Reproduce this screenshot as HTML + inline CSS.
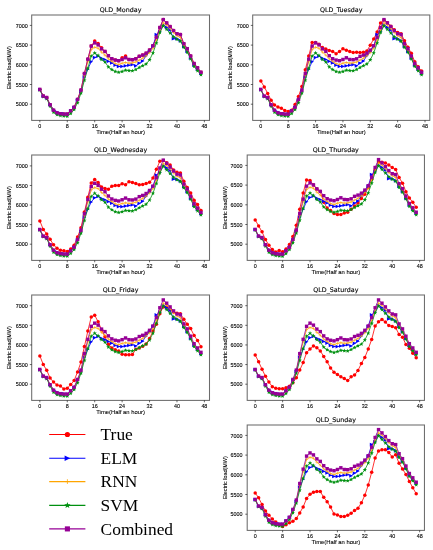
<!DOCTYPE html>
<html lang="en"><head><meta charset="utf-8"><title>QLD load forecasts</title>
<style>
html,body{margin:0;padding:0;background:#fff}
body{width:433px;height:550px;overflow:hidden}
svg{display:block}
.tk{font-family:"Liberation Sans",sans-serif;font-size:5.4px;fill:#000;stroke:#000;stroke-width:0.1px}
.ti{font-family:"DejaVu Sans","Liberation Sans",sans-serif;font-size:6.35px;fill:#000;stroke:#000;stroke-width:0.12px}
.lb{font-family:"Liberation Sans",sans-serif;font-size:5.45px;fill:#000;stroke:#000;stroke-width:0.08px}
.lg{font-family:"Liberation Serif",serif;font-size:17.4px;fill:#000}
</style></head><body>
<svg width="433" height="550" viewBox="0 0 433 550">
<rect width="433" height="550" fill="#fff"/>
<defs>
<marker id="mT" markerUnits="userSpaceOnUse" markerWidth="8" markerHeight="8" refX="4" refY="4" viewBox="0 0 8 8" orient="0" overflow="visible"><circle cx="4" cy="4" r="1.75" fill="#ff0000"/></marker>
<marker id="mE" markerUnits="userSpaceOnUse" markerWidth="8" markerHeight="8" refX="4" refY="4" viewBox="0 0 8 8" orient="0" overflow="visible"><polygon points="2.15,2.15 5.85,4 2.15,5.85" fill="#0000ff"/></marker>
<marker id="mR" markerUnits="userSpaceOnUse" markerWidth="8" markerHeight="8" refX="4" refY="4" viewBox="0 0 8 8" orient="0" overflow="visible"><path d="M2.4 4H5.6M4 2.4V5.6" stroke="#ffa500" stroke-width="0.5" fill="none"/></marker>
<marker id="mS" markerUnits="userSpaceOnUse" markerWidth="8" markerHeight="8" refX="4" refY="4" viewBox="0 0 8 8" orient="0" overflow="visible"><polygon points="4,1.8 4.56,3.23 6.09,3.32 4.9,4.29 5.29,5.78 4,4.95 2.71,5.78 3.1,4.29 1.91,3.32 3.44,3.23" fill="#009010"/></marker>
<marker id="mC" markerUnits="userSpaceOnUse" markerWidth="8" markerHeight="8" refX="4" refY="4" viewBox="0 0 8 8" orient="0" overflow="visible"><rect x="2.3" y="2.3" width="3.4" height="3.4" fill="#960096"/></marker>
</defs>
<g>
<polyline points="39.85,89.39 43.28,96 46.71,97.5 50.13,104.71 53.56,110.19 56.99,112.79 60.42,113.7 63.85,114.09 67.27,114.09 70.7,110.78 74.13,107.19 77.56,99.39 80.99,90.02 84.41,73.51 87.84,59.17 91.27,46.08 94.7,40.96 98.13,43.52 101.55,47.86 104.98,51.4 108.41,55.7 111.84,58.69 115.27,60.07 118.69,60.7 122.12,57.71 125.55,56.09 128.98,59.48 132.41,59.68 135.83,58.81 139.26,56.33 142.69,55.11 146.12,53.18 149.55,50.1 152.97,45.73 156.4,37.22 159.83,27.49 163.26,19.61 166.69,22.88 170.11,26.58 173.54,30.6 176.97,33.71 180.4,34.58 183.83,43.68 187.25,48.65 190.68,56.01 194.11,63.5 197.54,67.79 200.97,72.21" fill="none" stroke="#ff0000" stroke-width="0.8" stroke-linejoin="round" marker-start="url(#mT)" marker-mid="url(#mT)" marker-end="url(#mT)"/>
<polyline points="39.85,89.62 43.28,96.12 46.71,97.9 50.13,104.59 53.56,109.72 56.99,112.08 60.42,113.26 63.85,113.85 67.27,114.05 70.7,111.09 74.13,107.55 77.56,100.26 80.99,91.59 84.41,77.01 87.84,69.13 91.27,61.65 94.7,57.51 98.13,56.21 101.55,58.18 104.98,59.48 108.41,61.29 111.84,62.95 115.27,65.23 118.69,66.38 122.12,66.45 125.55,65.86 128.98,65.23 132.41,64.6 135.83,65.86 139.26,63.15 142.69,61.06 146.12,55.74 149.55,51.8 152.97,46.28 156.4,34.62 159.83,31.7 163.26,25.01 166.69,27.37 170.11,30.01 173.54,38.72 176.97,38.72 180.4,40.61 183.83,46.28 187.25,51.4 190.68,58.1 194.11,65.19 197.54,69.13 200.97,73.47" fill="none" stroke="#0000ff" stroke-width="0.8" stroke-linejoin="round" marker-start="url(#mE)" marker-mid="url(#mE)" marker-end="url(#mE)"/>
<polyline points="39.85,89.62 43.28,96.24 46.71,97.82 50.13,104.99 53.56,110.43 56.99,112.95 60.42,113.85 63.85,114.25 67.27,114.37 70.7,111.29 74.13,107.75 77.56,100.26 80.99,91.2 84.41,75.44 87.84,61.65 91.27,49.43 94.7,47.27 98.13,48.21 101.55,52.19 104.98,55.11 108.41,58.89 111.84,61.29 115.27,63.58 118.69,64.45 122.12,63.18 125.55,62.59 128.98,63.11 132.41,62.91 135.83,62 139.26,60.07 142.69,58.18 146.12,55.7 149.55,52.59 152.97,48.25 156.4,39.98 159.83,30.52 163.26,22.88 166.69,25.01 170.11,28.71 173.54,32.49 176.97,35.8 180.4,37.5 183.83,45.49 187.25,50.22 190.68,57.31 194.11,64.6 197.54,68.94 200.97,73.07" fill="none" stroke="#ffa500" stroke-width="0.8" stroke-linejoin="round" marker-start="url(#mR)" marker-mid="url(#mR)" marker-end="url(#mR)"/>
<polyline points="39.85,90.02 43.28,96.71 46.71,98.68 50.13,106.17 53.56,112.28 56.99,114.64 60.42,115.63 63.85,116.02 67.27,116.22 70.7,113.46 74.13,109.52 77.56,102.82 80.99,93.17 84.41,80.28 87.84,68.35 91.27,56.09 94.7,52.98 98.13,55.5 101.55,59.48 104.98,62 108.41,66.97 111.84,69.61 115.27,71.5 118.69,72.33 122.12,71.5 125.55,70.24 128.98,70.63 132.41,70.83 135.83,69.45 139.26,67.48 142.69,65.71 146.12,64.01 149.55,59.88 152.97,52.98 156.4,43.13 159.83,32.49 163.26,25.87 166.69,29.38 170.11,33.08 173.54,36.79 176.97,39.31 180.4,41.2 183.83,47.39 187.25,52.19 190.68,58.89 194.11,66.38 197.54,70.71 200.97,74.69" fill="none" stroke="#009010" stroke-width="0.8" stroke-linejoin="round" marker-start="url(#mS)" marker-mid="url(#mS)" marker-end="url(#mS)"/>
<polyline points="39.85,89.39 43.28,96 46.71,97.5 50.13,104.71 53.56,110.19 56.99,112.79 60.42,113.7 63.85,114.09 67.27,114.09 70.7,110.78 74.13,107.19 77.56,99.39 80.99,90.02 84.41,73.51 87.84,59.17 91.27,46.08 94.7,42.93 98.13,44.9 101.55,48.88 104.98,51.4 108.41,55.7 111.84,58.69 115.27,60.07 118.69,60.7 122.12,59.48 125.55,57.79 128.98,59.48 132.41,59.68 135.83,58.81 139.26,56.33 142.69,55.11 146.12,53.18 149.55,50.1 152.97,45.73 156.4,37.22 159.83,27.49 163.26,19.61 166.69,22.88 170.11,26.58 173.54,30.6 176.97,33.71 180.4,34.58 183.83,43.68 187.25,48.65 190.68,56.01 194.11,63.5 197.54,67.79 200.97,72.21" fill="none" stroke="#960096" stroke-width="0.8" stroke-linejoin="round" marker-start="url(#mC)" marker-mid="url(#mC)" marker-end="url(#mC)"/>
<rect x="31.7" y="15" width="177.8" height="105.4" fill="none" stroke="#6c6c6c" stroke-width="1.05"/>
<path d="M39.85 120.4v1.9M67.27 120.4v1.9M94.7 120.4v1.9M122.12 120.4v1.9M149.55 120.4v1.9M176.97 120.4v1.9M204.39 120.4v1.9M31.7 104.2h-1.9M31.7 84.5h-1.9M31.7 64.8h-1.9M31.7 45.1h-1.9M31.7 25.4h-1.9" stroke="#000" stroke-width="0.6" fill="none"/>
<text class="tk" x="39.85" y="127.8" text-anchor="middle">0</text>
<text class="tk" x="67.27" y="127.8" text-anchor="middle">8</text>
<text class="tk" x="94.7" y="127.8" text-anchor="middle">16</text>
<text class="tk" x="122.12" y="127.8" text-anchor="middle">24</text>
<text class="tk" x="149.55" y="127.8" text-anchor="middle">32</text>
<text class="tk" x="176.97" y="127.8" text-anchor="middle">40</text>
<text class="tk" x="204.39" y="127.8" text-anchor="middle">48</text>
<text class="tk" x="27.7" y="106.45" text-anchor="end">5000</text>
<text class="tk" x="27.7" y="86.75" text-anchor="end">5500</text>
<text class="tk" x="27.7" y="67.05" text-anchor="end">6000</text>
<text class="tk" x="27.7" y="47.35" text-anchor="end">6500</text>
<text class="tk" x="27.7" y="27.65" text-anchor="end">7000</text>
<text class="ti" x="120.6" y="11.6" text-anchor="middle">QLD_Monday</text>
<text class="lb" transform="translate(120.6 134.4) scale(1.08 1)" text-anchor="middle">Time(Half an hour)</text>
<text class="lb" transform="translate(11.1 67.7) scale(1.08 1) rotate(-90)" text-anchor="middle">Electric load(MW)</text>
</g>
<g>
<polyline points="260.85,81.11 264.27,86.9 267.69,93.4 271.11,100.18 274.53,104.99 277.95,107.08 281.37,108.3 284.79,110.58 288.21,111.41 291.63,110.19 295.05,104.59 298.47,96.48 301.89,86.51 305.31,69.8 308.73,56.09 312.15,42.62 315.57,42.38 318.99,44.31 322.41,47.39 325.83,48.88 329.25,50.54 332.67,51.48 336.09,53.77 339.51,51.6 342.93,48.84 346.35,50.34 349.77,51.6 353.19,52.59 356.61,52.19 360.03,52.59 363.45,52.19 366.87,51.01 370.29,45.14 373.71,38.91 377.13,32.1 380.55,22.88 383.97,19.88 387.39,22.64 390.81,26.19 394.23,29.73 397.65,32.49 401.07,33.67 404.49,40.77 407.91,47.19 411.33,53.37 414.75,61.65 418.17,66.77 421.59,71.1" fill="none" stroke="#ff0000" stroke-width="0.8" stroke-linejoin="round" marker-start="url(#mT)" marker-mid="url(#mT)" marker-end="url(#mT)"/>
<polyline points="260.85,89.62 264.27,96.12 267.69,97.9 271.11,104.59 274.53,109.72 277.95,112.08 281.37,113.26 284.79,113.85 288.21,114.05 291.63,111.09 295.05,107.55 298.47,100.26 301.89,91.59 305.31,77.01 308.73,69.13 312.15,61.65 315.57,57.51 318.99,56.21 322.41,58.18 325.83,59.48 329.25,61.29 332.67,62.95 336.09,65.23 339.51,66.38 342.93,66.45 346.35,65.86 349.77,65.23 353.19,64.6 356.61,65.86 360.03,63.15 363.45,61.06 366.87,55.74 370.29,51.8 373.71,46.28 377.13,34.62 380.55,31.7 383.97,25.01 387.39,27.37 390.81,30.01 394.23,38.72 397.65,38.72 401.07,40.61 404.49,46.28 407.91,51.4 411.33,58.1 414.75,65.19 418.17,69.13 421.59,73.47" fill="none" stroke="#0000ff" stroke-width="0.8" stroke-linejoin="round" marker-start="url(#mE)" marker-mid="url(#mE)" marker-end="url(#mE)"/>
<polyline points="260.85,89.62 264.27,96.24 267.69,97.82 271.11,104.99 274.53,110.43 277.95,112.95 281.37,113.85 284.79,114.25 288.21,114.37 291.63,111.29 295.05,107.75 298.47,100.26 301.89,91.2 305.31,75.44 308.73,61.65 312.15,49.43 315.57,47.27 318.99,48.21 322.41,52.19 325.83,55.11 329.25,58.89 332.67,61.29 336.09,63.58 339.51,64.45 342.93,63.18 346.35,62.59 349.77,63.11 353.19,62.91 356.61,62 360.03,60.07 363.45,58.18 366.87,55.7 370.29,52.59 373.71,48.25 377.13,39.98 380.55,30.52 383.97,22.88 387.39,25.01 390.81,28.71 394.23,32.49 397.65,35.8 401.07,37.5 404.49,45.49 407.91,50.22 411.33,57.31 414.75,64.6 418.17,68.94 421.59,73.07" fill="none" stroke="#ffa500" stroke-width="0.8" stroke-linejoin="round" marker-start="url(#mR)" marker-mid="url(#mR)" marker-end="url(#mR)"/>
<polyline points="260.85,90.02 264.27,96.71 267.69,98.68 271.11,106.17 274.53,112.28 277.95,114.64 281.37,115.63 284.79,116.02 288.21,116.22 291.63,113.46 295.05,109.52 298.47,102.82 301.89,93.17 305.31,80.28 308.73,68.35 312.15,56.09 315.57,52.98 318.99,55.5 322.41,59.48 325.83,62 329.25,66.97 332.67,69.61 336.09,71.5 339.51,72.33 342.93,71.5 346.35,70.24 349.77,70.63 353.19,70.83 356.61,69.45 360.03,67.48 363.45,65.71 366.87,64.01 370.29,59.88 373.71,52.98 377.13,43.13 380.55,32.49 383.97,25.87 387.39,29.38 390.81,33.08 394.23,36.79 397.65,39.31 401.07,41.2 404.49,47.39 407.91,52.19 411.33,58.89 414.75,66.38 418.17,70.71 421.59,74.69" fill="none" stroke="#009010" stroke-width="0.8" stroke-linejoin="round" marker-start="url(#mS)" marker-mid="url(#mS)" marker-end="url(#mS)"/>
<polyline points="260.85,89.39 264.27,96 267.69,97.5 271.11,104.71 274.53,110.19 277.95,112.79 281.37,113.7 284.79,114.09 288.21,114.09 291.63,110.78 295.05,107.19 298.47,99.39 301.89,90.02 305.31,73.51 308.73,59.17 312.15,46.08 315.57,42.93 318.99,44.9 322.41,48.88 325.83,51.4 329.25,55.7 332.67,58.69 336.09,60.07 339.51,60.7 342.93,59.48 346.35,57.79 349.77,59.48 353.19,59.68 356.61,58.81 360.03,56.33 363.45,55.11 366.87,53.18 370.29,50.1 373.71,45.73 377.13,37.22 380.55,27.49 383.97,19.61 387.39,22.88 390.81,26.58 394.23,30.6 397.65,33.71 401.07,34.58 404.49,43.68 407.91,48.65 411.33,56.01 414.75,63.5 418.17,67.79 421.59,72.21" fill="none" stroke="#960096" stroke-width="0.8" stroke-linejoin="round" marker-start="url(#mC)" marker-mid="url(#mC)" marker-end="url(#mC)"/>
<rect x="252.7" y="15" width="177.1" height="105.4" fill="none" stroke="#6c6c6c" stroke-width="1.05"/>
<path d="M260.85 120.4v1.9M288.21 120.4v1.9M315.57 120.4v1.9M342.93 120.4v1.9M370.29 120.4v1.9M397.65 120.4v1.9M425.01 120.4v1.9M252.7 104.2h-1.9M252.7 84.5h-1.9M252.7 64.8h-1.9M252.7 45.1h-1.9M252.7 25.4h-1.9" stroke="#000" stroke-width="0.6" fill="none"/>
<text class="tk" x="260.85" y="127.8" text-anchor="middle">0</text>
<text class="tk" x="288.21" y="127.8" text-anchor="middle">8</text>
<text class="tk" x="315.57" y="127.8" text-anchor="middle">16</text>
<text class="tk" x="342.93" y="127.8" text-anchor="middle">24</text>
<text class="tk" x="370.29" y="127.8" text-anchor="middle">32</text>
<text class="tk" x="397.65" y="127.8" text-anchor="middle">40</text>
<text class="tk" x="425.01" y="127.8" text-anchor="middle">48</text>
<text class="tk" x="248.7" y="106.45" text-anchor="end">5000</text>
<text class="tk" x="248.7" y="86.75" text-anchor="end">5500</text>
<text class="tk" x="248.7" y="67.05" text-anchor="end">6000</text>
<text class="tk" x="248.7" y="47.35" text-anchor="end">6500</text>
<text class="tk" x="248.7" y="27.65" text-anchor="end">7000</text>
<text class="ti" x="341.25" y="11.6" text-anchor="middle">QLD_Tuesday</text>
<text class="lb" transform="translate(341.25 134.4) scale(1.08 1)" text-anchor="middle">Time(Half an hour)</text>
<text class="lb" transform="translate(232.1 67.7) scale(1.08 1) rotate(-90)" text-anchor="middle">Electric load(MW)</text>
</g>
<g>
<polyline points="39.85,220.91 43.28,229.4 46.71,233.98 50.13,239.31 53.56,244.79 56.99,248.31 60.42,250.19 63.85,250.82 67.27,251.4 70.7,248.9 74.13,245.18 77.56,237.07 80.99,227.8 84.41,212.1 87.84,197.3 91.27,183.01 94.7,179.6 98.13,182.38 101.55,187.04 104.98,188.61 108.41,189.19 111.84,186.26 115.27,185.4 118.69,185.4 122.12,183.83 125.55,184.69 128.98,181.68 132.41,182.58 135.83,183.6 139.26,184.81 142.69,184.5 146.12,183.6 149.55,182.34 152.97,178.04 156.4,169.35 159.83,161.28 163.26,160.42 166.69,162.77 170.11,165 173.54,170.01 176.97,172.16 180.4,173.1 183.83,181.17 187.25,187.43 190.68,193.11 194.11,200.2 197.54,204.58 200.97,210.53" fill="none" stroke="#ff0000" stroke-width="0.8" stroke-linejoin="round" marker-start="url(#mT)" marker-mid="url(#mT)" marker-end="url(#mT)"/>
<polyline points="39.85,229.71 43.28,236.17 46.71,237.94 50.13,244.59 53.56,249.68 56.99,252.03 60.42,253.2 63.85,253.79 67.27,253.99 70.7,251.05 74.13,247.53 77.56,240.28 80.99,231.67 84.41,217.19 87.84,209.36 91.27,201.92 94.7,197.81 98.13,196.52 101.55,198.47 104.98,199.76 108.41,201.57 111.84,203.21 115.27,205.48 118.69,206.62 122.12,206.69 125.55,206.11 128.98,205.48 132.41,204.85 135.83,206.11 139.26,203.41 142.69,201.33 146.12,196.05 149.55,192.13 152.97,186.65 156.4,175.06 159.83,172.16 163.26,165.51 166.69,167.86 170.11,170.48 173.54,179.13 176.97,179.13 180.4,181.01 183.83,186.65 187.25,191.74 190.68,198.39 194.11,205.44 197.54,209.36 200.97,213.66" fill="none" stroke="#0000ff" stroke-width="0.8" stroke-linejoin="round" marker-start="url(#mE)" marker-mid="url(#mE)" marker-end="url(#mE)"/>
<polyline points="39.85,229.71 43.28,236.29 46.71,237.86 50.13,244.98 53.56,250.39 56.99,252.89 60.42,253.79 63.85,254.18 67.27,254.3 70.7,251.25 74.13,247.72 77.56,240.28 80.99,231.28 84.41,215.62 87.84,201.92 91.27,189.78 94.7,187.63 98.13,188.57 101.55,192.52 104.98,195.42 108.41,199.18 111.84,201.57 115.27,203.84 118.69,204.7 122.12,203.44 125.55,202.86 128.98,203.37 132.41,203.17 135.83,202.27 139.26,200.35 142.69,198.47 146.12,196.01 149.55,192.91 152.97,188.61 156.4,180.39 159.83,170.99 163.26,163.39 166.69,165.51 170.11,169.19 173.54,172.95 176.97,176.24 180.4,177.92 183.83,185.87 187.25,190.56 190.68,197.61 194.11,204.85 197.54,209.16 200.97,213.27" fill="none" stroke="#ffa500" stroke-width="0.8" stroke-linejoin="round" marker-start="url(#mR)" marker-mid="url(#mR)" marker-end="url(#mR)"/>
<polyline points="39.85,230.11 43.28,236.76 46.71,238.72 50.13,246.16 53.56,252.23 56.99,254.57 60.42,255.55 63.85,255.94 67.27,256.14 70.7,253.4 74.13,249.49 77.56,242.83 80.99,233.24 84.41,220.44 87.84,208.57 91.27,196.4 94.7,193.31 98.13,195.81 101.55,199.76 104.98,202.27 108.41,207.2 111.84,209.83 115.27,211.71 118.69,212.53 122.12,211.71 125.55,210.45 128.98,210.84 132.41,211.04 135.83,209.67 139.26,207.71 142.69,205.95 146.12,204.27 149.55,200.16 152.97,193.31 156.4,183.52 159.83,172.95 163.26,166.37 166.69,169.85 170.11,173.53 173.54,177.21 176.97,179.72 180.4,181.6 183.83,187.75 187.25,192.52 190.68,199.18 194.11,206.62 197.54,210.92 200.97,214.88" fill="none" stroke="#009010" stroke-width="0.8" stroke-linejoin="round" marker-start="url(#mS)" marker-mid="url(#mS)" marker-end="url(#mS)"/>
<polyline points="39.85,229.48 43.28,236.06 46.71,237.54 50.13,244.71 53.56,250.15 56.99,252.73 60.42,253.64 63.85,254.03 67.27,254.03 70.7,250.74 74.13,247.18 77.56,239.42 80.99,230.11 84.41,213.7 87.84,199.45 91.27,186.45 94.7,183.32 98.13,185.28 101.55,189.23 104.98,191.74 108.41,196.01 111.84,198.98 115.27,200.35 118.69,200.98 122.12,199.76 125.55,198.08 128.98,199.76 132.41,199.96 135.83,199.1 139.26,196.63 142.69,195.42 146.12,193.5 149.55,190.45 152.97,186.1 156.4,177.65 159.83,167.97 163.26,160.14 166.69,163.39 170.11,167.07 173.54,171.07 176.97,174.16 180.4,175.02 183.83,184.07 187.25,189 190.68,196.32 194.11,203.76 197.54,208.03 200.97,212.41" fill="none" stroke="#960096" stroke-width="0.8" stroke-linejoin="round" marker-start="url(#mC)" marker-mid="url(#mC)" marker-end="url(#mC)"/>
<rect x="31.7" y="155" width="177.8" height="105.4" fill="none" stroke="#6c6c6c" stroke-width="1.05"/>
<path d="M39.85 260.4v1.9M67.27 260.4v1.9M94.7 260.4v1.9M122.12 260.4v1.9M149.55 260.4v1.9M176.97 260.4v1.9M204.39 260.4v1.9M31.7 244.2h-1.9M31.7 224.62h-1.9M31.7 205.05h-1.9M31.7 185.47h-1.9M31.7 165.9h-1.9" stroke="#000" stroke-width="0.6" fill="none"/>
<text class="tk" x="39.85" y="267.8" text-anchor="middle">0</text>
<text class="tk" x="67.27" y="267.8" text-anchor="middle">8</text>
<text class="tk" x="94.7" y="267.8" text-anchor="middle">16</text>
<text class="tk" x="122.12" y="267.8" text-anchor="middle">24</text>
<text class="tk" x="149.55" y="267.8" text-anchor="middle">32</text>
<text class="tk" x="176.97" y="267.8" text-anchor="middle">40</text>
<text class="tk" x="204.39" y="267.8" text-anchor="middle">48</text>
<text class="tk" x="27.7" y="246.45" text-anchor="end">5000</text>
<text class="tk" x="27.7" y="226.88" text-anchor="end">5500</text>
<text class="tk" x="27.7" y="207.3" text-anchor="end">6000</text>
<text class="tk" x="27.7" y="187.72" text-anchor="end">6500</text>
<text class="tk" x="27.7" y="168.15" text-anchor="end">7000</text>
<text class="ti" x="120.6" y="151.6" text-anchor="middle">QLD_Wednesday</text>
<text class="lb" transform="translate(120.6 274.4) scale(1.08 1)" text-anchor="middle">Time(Half an hour)</text>
<text class="lb" transform="translate(11.1 207.7) scale(1.08 1) rotate(-90)" text-anchor="middle">Electric load(MW)</text>
</g>
<g>
<polyline points="255.2,219.89 258.63,225.88 262.05,231.87 265.48,239.59 268.9,245.19 272.33,249.56 275.76,251.88 279.18,250.58 282.61,251.8 286.03,248.93 289.46,244.59 292.89,236.48 296.31,225.25 299.74,209.13 303.16,192.98 306.59,180.1 310.02,180.49 313.44,184.9 316.87,189.04 320.29,191.6 323.72,202.36 327.15,207.99 330.57,210.43 334,213.59 337.42,214.61 340.85,214.61 344.28,212.88 347.7,212.29 351.13,209.21 354.55,206.1 357.98,202.99 361.41,198.38 364.83,194.2 368.26,187.39 371.68,179.19 375.11,169.73 378.54,161.85 381.96,162.25 385.39,162.88 388.81,165.01 392.24,167.49 395.67,169.38 399.09,177.42 402.52,183.13 405.94,191.68 409.37,197.98 412.8,202.28 416.22,207.28" fill="none" stroke="#ff0000" stroke-width="0.8" stroke-linejoin="round" marker-start="url(#mT)" marker-mid="url(#mT)" marker-end="url(#mT)"/>
<polyline points="255.2,229.62 258.63,236.12 262.05,237.9 265.48,244.59 268.9,249.72 272.33,252.08 275.76,253.26 279.18,253.85 282.61,254.05 286.03,251.09 289.46,247.55 292.89,240.26 296.31,231.59 299.74,217.01 303.16,209.13 306.59,201.65 310.02,197.51 313.44,196.21 316.87,198.18 320.29,199.48 323.72,201.29 327.15,202.95 330.57,205.23 334,206.38 337.42,206.45 340.85,205.86 344.28,205.23 347.7,204.6 351.13,205.86 354.55,203.15 357.98,201.06 361.41,195.74 364.83,191.8 368.26,186.28 371.68,174.62 375.11,171.7 378.54,165.01 381.96,167.37 385.39,170.01 388.81,178.72 392.24,178.72 395.67,180.61 399.09,186.28 402.52,191.4 405.94,198.1 409.37,205.19 412.8,209.13 416.22,213.47" fill="none" stroke="#0000ff" stroke-width="0.8" stroke-linejoin="round" marker-start="url(#mE)" marker-mid="url(#mE)" marker-end="url(#mE)"/>
<polyline points="255.2,229.62 258.63,236.24 262.05,237.82 265.48,244.99 268.9,250.43 272.33,252.95 275.76,253.85 279.18,254.25 282.61,254.37 286.03,251.29 289.46,247.75 292.89,240.26 296.31,231.2 299.74,215.44 303.16,201.65 306.59,189.43 310.02,187.27 313.44,188.21 316.87,192.19 320.29,195.11 323.72,198.89 327.15,201.29 330.57,203.58 334,204.45 337.42,203.18 340.85,202.59 344.28,203.11 347.7,202.91 351.13,202 354.55,200.07 357.98,198.18 361.41,195.7 364.83,192.59 368.26,188.25 371.68,179.98 375.11,170.52 378.54,162.88 381.96,165.01 385.39,168.71 388.81,172.49 392.24,175.8 395.67,177.5 399.09,185.49 402.52,190.22 405.94,197.31 409.37,204.6 412.8,208.94 416.22,213.07" fill="none" stroke="#ffa500" stroke-width="0.8" stroke-linejoin="round" marker-start="url(#mR)" marker-mid="url(#mR)" marker-end="url(#mR)"/>
<polyline points="255.2,230.02 258.63,236.71 262.05,238.68 265.48,246.17 268.9,252.28 272.33,254.64 275.76,255.63 279.18,256.02 282.61,256.22 286.03,253.46 289.46,249.52 292.89,242.82 296.31,233.17 299.74,220.28 303.16,208.35 306.59,196.09 310.02,192.98 313.44,195.5 316.87,199.48 320.29,202 323.72,206.97 327.15,209.61 330.57,211.5 334,212.33 337.42,211.5 340.85,210.24 344.28,210.63 347.7,210.83 351.13,209.45 354.55,207.48 357.98,205.71 361.41,204.01 364.83,199.88 368.26,192.98 371.68,183.13 375.11,172.49 378.54,165.87 381.96,169.38 385.39,173.08 388.81,176.79 392.24,179.31 395.67,181.2 399.09,187.39 402.52,192.19 405.94,198.89 409.37,206.38 412.8,210.71 416.22,214.69" fill="none" stroke="#009010" stroke-width="0.8" stroke-linejoin="round" marker-start="url(#mS)" marker-mid="url(#mS)" marker-end="url(#mS)"/>
<polyline points="255.2,229.39 258.63,236 262.05,237.5 265.48,244.71 268.9,250.19 272.33,252.79 275.76,253.7 279.18,254.09 282.61,254.09 286.03,250.78 289.46,247.19 292.89,239.39 296.31,230.02 299.74,213.51 303.16,199.17 306.59,186.09 310.02,182.93 313.44,184.9 316.87,188.88 320.29,191.4 323.72,195.7 327.15,198.69 330.57,200.07 334,200.7 337.42,199.48 340.85,197.79 344.28,199.48 347.7,199.68 351.13,198.81 354.55,196.33 357.98,195.11 361.41,193.18 364.83,190.1 368.26,185.73 371.68,177.22 375.11,167.49 378.54,159.61 381.96,162.88 385.39,166.58 388.81,170.6 392.24,173.71 395.67,174.58 399.09,183.68 402.52,188.65 405.94,196.01 409.37,203.5 412.8,207.79 416.22,212.21" fill="none" stroke="#960096" stroke-width="0.8" stroke-linejoin="round" marker-start="url(#mC)" marker-mid="url(#mC)" marker-end="url(#mC)"/>
<rect x="247.2" y="155" width="177.25" height="105.4" fill="none" stroke="#6c6c6c" stroke-width="1.05"/>
<path d="M255.2 260.4v1.9M282.61 260.4v1.9M310.02 260.4v1.9M337.42 260.4v1.9M364.83 260.4v1.9M392.24 260.4v1.9M419.65 260.4v1.9M247.2 244.2h-1.9M247.2 224.5h-1.9M247.2 204.8h-1.9M247.2 185.1h-1.9M247.2 165.4h-1.9" stroke="#000" stroke-width="0.6" fill="none"/>
<text class="tk" x="255.2" y="267.8" text-anchor="middle">0</text>
<text class="tk" x="282.61" y="267.8" text-anchor="middle">8</text>
<text class="tk" x="310.02" y="267.8" text-anchor="middle">16</text>
<text class="tk" x="337.42" y="267.8" text-anchor="middle">24</text>
<text class="tk" x="364.83" y="267.8" text-anchor="middle">32</text>
<text class="tk" x="392.24" y="267.8" text-anchor="middle">40</text>
<text class="tk" x="419.65" y="267.8" text-anchor="middle">48</text>
<text class="tk" x="242.5" y="246.45" text-anchor="end">5000</text>
<text class="tk" x="242.5" y="226.75" text-anchor="end">5500</text>
<text class="tk" x="242.5" y="207.05" text-anchor="end">6000</text>
<text class="tk" x="242.5" y="187.35" text-anchor="end">6500</text>
<text class="tk" x="242.5" y="167.65" text-anchor="end">7000</text>
<text class="ti" x="335.82" y="151.6" text-anchor="middle">QLD_Thursday</text>
<text class="lb" transform="translate(335.82 274.4) scale(1.08 1)" text-anchor="middle">Time(Half an hour)</text>
<text class="lb" transform="translate(226.6 207.7) scale(1.08 1) rotate(-90)" text-anchor="middle">Electric load(MW)</text>
</g>
<g>
<polyline points="39.85,355.9 43.28,364.57 46.71,370.23 50.13,378.08 53.56,382.08 56.99,384.99 60.42,386.08 63.85,388.91 67.27,388.28 70.7,384.59 74.13,380.59 77.56,371.88 80.99,362.1 84.41,346.52 87.84,331.09 91.27,316.89 94.7,315.28 98.13,321.79 101.55,329.64 104.98,336.71 108.41,344.16 111.84,347.89 115.27,349.78 118.69,351.07 122.12,354.17 125.55,354.8 128.98,354.8 132.41,354.61 135.83,349.19 139.26,347.89 142.69,346.13 146.12,343.97 149.55,338.4 152.97,331.09 156.4,324.3 159.83,313.71 163.26,306.88 166.69,306.88 170.11,310.02 173.54,311.98 176.97,313.16 180.4,313.71 183.83,319.28 187.25,324.23 190.68,328.58 194.11,335.49 197.54,340.44 200.97,346.68" fill="none" stroke="#ff0000" stroke-width="0.8" stroke-linejoin="round" marker-start="url(#mT)" marker-mid="url(#mT)" marker-end="url(#mT)"/>
<polyline points="39.85,369.68 43.28,376.15 46.71,377.92 50.13,384.59 53.56,389.69 56.99,392.05 60.42,393.23 63.85,393.82 67.27,394.01 70.7,391.07 74.13,387.54 77.56,380.27 80.99,371.64 84.41,357.12 87.84,349.27 91.27,341.81 94.7,337.69 98.13,336.39 101.55,338.36 104.98,339.65 108.41,341.46 111.84,343.11 115.27,345.38 118.69,346.52 122.12,346.6 125.55,346.01 128.98,345.38 132.41,344.75 135.83,346.01 139.26,343.3 142.69,341.22 146.12,335.92 149.55,332 152.97,326.5 156.4,314.88 159.83,311.98 163.26,305.31 166.69,307.66 170.11,310.29 173.54,318.97 176.97,318.97 180.4,320.85 183.83,326.5 187.25,331.61 190.68,338.28 194.11,345.34 197.54,349.27 200.97,353.58" fill="none" stroke="#0000ff" stroke-width="0.8" stroke-linejoin="round" marker-start="url(#mE)" marker-mid="url(#mE)" marker-end="url(#mE)"/>
<polyline points="39.85,369.68 43.28,376.27 46.71,377.84 50.13,384.99 53.56,390.4 56.99,392.91 60.42,393.82 63.85,394.21 67.27,394.33 70.7,391.26 74.13,387.73 77.56,380.27 80.99,371.25 84.41,355.55 87.84,341.81 91.27,329.64 94.7,327.48 98.13,328.43 101.55,332.39 104.98,335.29 108.41,339.06 111.84,341.46 115.27,343.73 118.69,344.6 122.12,343.34 125.55,342.75 128.98,343.26 132.41,343.07 135.83,342.16 139.26,340.24 142.69,338.36 146.12,335.88 149.55,332.78 152.97,328.46 156.4,320.22 159.83,310.8 163.26,303.19 166.69,305.31 170.11,309 173.54,312.76 176.97,316.06 180.4,317.75 183.83,325.72 187.25,330.43 190.68,337.49 194.11,344.75 197.54,349.07 200.97,353.19" fill="none" stroke="#ffa500" stroke-width="0.8" stroke-linejoin="round" marker-start="url(#mR)" marker-mid="url(#mR)" marker-end="url(#mR)"/>
<polyline points="39.85,370.07 43.28,376.74 46.71,378.7 50.13,386.16 53.56,392.25 56.99,394.6 60.42,395.58 63.85,395.97 67.27,396.17 70.7,393.42 74.13,389.5 77.56,382.83 80.99,373.21 84.41,360.38 87.84,348.48 91.27,336.28 94.7,333.18 98.13,335.69 101.55,339.65 104.98,342.16 108.41,347.11 111.84,349.74 115.27,351.62 118.69,352.45 122.12,351.62 125.55,350.37 128.98,350.76 132.41,350.96 135.83,349.58 139.26,347.62 142.69,345.85 146.12,344.16 149.55,340.04 152.97,333.18 156.4,323.36 159.83,312.76 163.26,306.17 166.69,309.66 170.11,313.35 173.54,317.04 176.97,319.56 180.4,321.44 183.83,327.6 187.25,332.39 190.68,339.06 194.11,346.52 197.54,350.84 200.97,354.8" fill="none" stroke="#009010" stroke-width="0.8" stroke-linejoin="round" marker-start="url(#mS)" marker-mid="url(#mS)" marker-end="url(#mS)"/>
<polyline points="39.85,369.44 43.28,376.04 46.71,377.53 50.13,384.71 53.56,390.17 56.99,392.76 60.42,393.66 63.85,394.05 67.27,394.05 70.7,390.75 74.13,387.18 77.56,379.41 80.99,370.07 84.41,353.62 87.84,339.34 91.27,326.31 94.7,323.17 98.13,325.13 101.55,329.09 104.98,331.61 108.41,335.88 111.84,338.87 115.27,340.24 118.69,340.87 122.12,339.65 125.55,337.96 128.98,339.65 132.41,339.85 135.83,338.98 139.26,336.51 142.69,335.29 146.12,333.37 149.55,330.31 152.97,325.95 156.4,317.48 159.83,307.78 163.26,299.93 166.69,303.19 170.11,306.88 173.54,310.88 176.97,313.98 180.4,314.85 183.83,323.91 187.25,328.86 190.68,336.2 194.11,343.65 197.54,347.93 200.97,352.33" fill="none" stroke="#960096" stroke-width="0.8" stroke-linejoin="round" marker-start="url(#mC)" marker-mid="url(#mC)" marker-end="url(#mC)"/>
<rect x="31.7" y="295" width="177.8" height="105.4" fill="none" stroke="#6c6c6c" stroke-width="1.05"/>
<path d="M39.85 400.4v1.9M67.27 400.4v1.9M94.7 400.4v1.9M122.12 400.4v1.9M149.55 400.4v1.9M176.97 400.4v1.9M204.39 400.4v1.9M31.7 384.2h-1.9M31.7 364.57h-1.9M31.7 344.95h-1.9M31.7 325.32h-1.9M31.7 305.7h-1.9" stroke="#000" stroke-width="0.6" fill="none"/>
<text class="tk" x="39.85" y="407.8" text-anchor="middle">0</text>
<text class="tk" x="67.27" y="407.8" text-anchor="middle">8</text>
<text class="tk" x="94.7" y="407.8" text-anchor="middle">16</text>
<text class="tk" x="122.12" y="407.8" text-anchor="middle">24</text>
<text class="tk" x="149.55" y="407.8" text-anchor="middle">32</text>
<text class="tk" x="176.97" y="407.8" text-anchor="middle">40</text>
<text class="tk" x="204.39" y="407.8" text-anchor="middle">48</text>
<text class="tk" x="27.7" y="386.45" text-anchor="end">5000</text>
<text class="tk" x="27.7" y="366.82" text-anchor="end">5500</text>
<text class="tk" x="27.7" y="347.2" text-anchor="end">6000</text>
<text class="tk" x="27.7" y="327.57" text-anchor="end">6500</text>
<text class="tk" x="27.7" y="307.95" text-anchor="end">7000</text>
<text class="ti" x="120.6" y="291.6" text-anchor="middle">QLD_Friday</text>
<text class="lb" transform="translate(120.6 414.4) scale(1.08 1)" text-anchor="middle">Time(Half an hour)</text>
<text class="lb" transform="translate(11.1 347.7) scale(1.08 1) rotate(-90)" text-anchor="middle">Electric load(MW)</text>
</g>
<g>
<polyline points="255.2,355.08 258.63,361.75 262.05,369.28 265.48,376.27 268.9,382.04 272.33,386.75 275.76,388.36 279.18,388.71 282.61,388.71 286.03,387.73 289.46,386.16 292.89,382.63 296.31,377.84 299.74,370.07 303.16,362.61 306.59,352.68 310.02,348.99 313.44,345.89 316.87,347.7 320.29,350.92 323.72,356.53 327.15,361.83 330.57,367.91 334,372.23 337.42,374.51 340.85,376.86 344.28,378.59 347.7,380.59 351.13,376.86 354.55,375.09 357.98,370.46 361.41,363.4 364.83,357.51 368.26,348.88 371.68,339.45 375.11,326.11 378.54,321.79 381.96,319.59 385.39,322.11 388.81,325.52 392.24,326.5 395.67,327.76 399.09,334.39 402.52,337.3 405.94,344.56 409.37,348.29 412.8,353.19 416.22,357.67" fill="none" stroke="#ff0000" stroke-width="0.8" stroke-linejoin="round" marker-start="url(#mT)" marker-mid="url(#mT)" marker-end="url(#mT)"/>
<polyline points="255.2,369.68 258.63,376.15 262.05,377.92 265.48,384.59 268.9,389.69 272.33,392.05 275.76,393.23 279.18,393.82 282.61,394.01 286.03,391.07 289.46,387.54 292.89,380.27 296.31,371.64 299.74,357.12 303.16,349.27 306.59,341.81 310.02,337.69 313.44,336.39 316.87,338.36 320.29,339.65 323.72,341.46 327.15,343.11 330.57,345.38 334,346.52 337.42,346.6 340.85,346.01 344.28,345.38 347.7,344.75 351.13,346.01 354.55,343.3 357.98,341.22 361.41,335.92 364.83,332 368.26,326.5 371.68,314.88 375.11,311.98 378.54,305.31 381.96,307.66 385.39,310.29 388.81,318.97 392.24,318.97 395.67,320.85 399.09,326.5 402.52,331.61 405.94,338.28 409.37,345.34 412.8,349.27 416.22,353.58" fill="none" stroke="#0000ff" stroke-width="0.8" stroke-linejoin="round" marker-start="url(#mE)" marker-mid="url(#mE)" marker-end="url(#mE)"/>
<polyline points="255.2,369.68 258.63,376.27 262.05,377.84 265.48,384.99 268.9,390.4 272.33,392.91 275.76,393.82 279.18,394.21 282.61,394.33 286.03,391.26 289.46,387.73 292.89,380.27 296.31,371.25 299.74,355.55 303.16,341.81 306.59,329.64 310.02,327.48 313.44,328.43 316.87,332.39 320.29,335.29 323.72,339.06 327.15,341.46 330.57,343.73 334,344.6 337.42,343.34 340.85,342.75 344.28,343.26 347.7,343.07 351.13,342.16 354.55,340.24 357.98,338.36 361.41,335.88 364.83,332.78 368.26,328.46 371.68,320.22 375.11,310.8 378.54,303.19 381.96,305.31 385.39,309 388.81,312.76 392.24,316.06 395.67,317.75 399.09,325.72 402.52,330.43 405.94,337.49 409.37,344.75 412.8,349.07 416.22,353.19" fill="none" stroke="#ffa500" stroke-width="0.8" stroke-linejoin="round" marker-start="url(#mR)" marker-mid="url(#mR)" marker-end="url(#mR)"/>
<polyline points="255.2,370.07 258.63,376.74 262.05,378.7 265.48,386.16 268.9,392.25 272.33,394.6 275.76,395.58 279.18,395.97 282.61,396.17 286.03,393.42 289.46,389.5 292.89,382.83 296.31,373.21 299.74,360.38 303.16,348.48 306.59,336.28 310.02,333.18 313.44,335.69 316.87,339.65 320.29,342.16 323.72,347.11 327.15,349.74 330.57,351.62 334,352.45 337.42,351.62 340.85,350.37 344.28,350.76 347.7,350.96 351.13,349.58 354.55,347.62 357.98,345.85 361.41,344.16 364.83,340.04 368.26,333.18 371.68,323.36 375.11,312.76 378.54,306.17 381.96,309.66 385.39,313.35 388.81,317.04 392.24,319.56 395.67,321.44 399.09,327.6 402.52,332.39 405.94,339.06 409.37,346.52 412.8,350.84 416.22,354.8" fill="none" stroke="#009010" stroke-width="0.8" stroke-linejoin="round" marker-start="url(#mS)" marker-mid="url(#mS)" marker-end="url(#mS)"/>
<polyline points="255.2,369.44 258.63,376.04 262.05,377.53 265.48,384.71 268.9,390.17 272.33,392.76 275.76,393.66 279.18,394.05 282.61,394.05 286.03,390.75 289.46,387.18 292.89,379.41 296.31,370.07 299.74,353.62 303.16,339.34 306.59,326.31 310.02,323.17 313.44,325.13 316.87,329.09 320.29,331.61 323.72,335.88 327.15,338.87 330.57,340.24 334,340.87 337.42,339.65 340.85,337.96 344.28,339.65 347.7,339.85 351.13,338.98 354.55,336.51 357.98,335.29 361.41,333.37 364.83,330.31 368.26,325.95 371.68,317.48 375.11,307.78 378.54,299.93 381.96,303.19 385.39,306.88 388.81,310.88 392.24,313.98 395.67,314.85 399.09,323.91 402.52,328.86 405.94,336.2 409.37,343.65 412.8,347.93 416.22,352.33" fill="none" stroke="#960096" stroke-width="0.8" stroke-linejoin="round" marker-start="url(#mC)" marker-mid="url(#mC)" marker-end="url(#mC)"/>
<rect x="247.2" y="295" width="177.25" height="105.4" fill="none" stroke="#6c6c6c" stroke-width="1.05"/>
<path d="M255.2 400.4v1.9M282.61 400.4v1.9M310.02 400.4v1.9M337.42 400.4v1.9M364.83 400.4v1.9M392.24 400.4v1.9M419.65 400.4v1.9M247.2 384.2h-1.9M247.2 364.57h-1.9M247.2 344.95h-1.9M247.2 325.32h-1.9M247.2 305.7h-1.9" stroke="#000" stroke-width="0.6" fill="none"/>
<text class="tk" x="255.2" y="407.8" text-anchor="middle">0</text>
<text class="tk" x="282.61" y="407.8" text-anchor="middle">8</text>
<text class="tk" x="310.02" y="407.8" text-anchor="middle">16</text>
<text class="tk" x="337.42" y="407.8" text-anchor="middle">24</text>
<text class="tk" x="364.83" y="407.8" text-anchor="middle">32</text>
<text class="tk" x="392.24" y="407.8" text-anchor="middle">40</text>
<text class="tk" x="419.65" y="407.8" text-anchor="middle">48</text>
<text class="tk" x="242.5" y="386.45" text-anchor="end">5000</text>
<text class="tk" x="242.5" y="366.82" text-anchor="end">5500</text>
<text class="tk" x="242.5" y="347.2" text-anchor="end">6000</text>
<text class="tk" x="242.5" y="327.57" text-anchor="end">6500</text>
<text class="tk" x="242.5" y="307.95" text-anchor="end">7000</text>
<text class="ti" x="335.82" y="291.6" text-anchor="middle">QLD_Saturday</text>
<text class="lb" transform="translate(226.6 347.7) scale(1.08 1) rotate(-90)" text-anchor="middle">Electric load(MW)</text>
</g>
<g>
<polyline points="255.2,493.08 258.63,497.73 262.05,504.59 265.48,511.05 268.9,515.19 272.33,518.93 275.76,522.08 279.18,524.64 282.61,526.41 286.03,524.68 289.46,522.87 292.89,521.37 296.31,518.53 299.74,513.02 303.16,506.91 306.59,498.48 310.02,494.34 313.44,492.21 316.87,491.58 320.29,491.58 323.72,497.34 327.15,501.67 330.57,507.11 334,514 337.42,514.99 340.85,516.45 344.28,516.45 347.7,515.19 351.13,513.29 354.55,510.58 357.98,508.33 361.41,502.7 364.83,495.29 368.26,485.04 371.68,472.2 375.11,457.9 378.54,451 381.96,449.74 385.39,449.74 388.81,452.58 392.24,457.07 395.67,454.71 399.09,463.37 402.52,468.97 405.94,474.41 409.37,481.38 412.8,487.72 416.22,493.79" fill="none" stroke="#ff0000" stroke-width="0.8" stroke-linejoin="round" marker-start="url(#mT)" marker-mid="url(#mT)" marker-end="url(#mT)"/>
<polyline points="255.2,499.62 258.63,506.12 262.05,507.9 265.48,514.59 268.9,519.72 272.33,522.08 275.76,523.26 279.18,523.85 282.61,524.05 286.03,521.1 289.46,517.55 292.89,510.26 296.31,501.59 299.74,487.01 303.16,479.13 306.59,471.65 310.02,467.51 313.44,466.21 316.87,468.18 320.29,469.48 323.72,471.29 327.15,472.95 330.57,475.23 334,476.38 337.42,476.45 340.85,475.86 344.28,475.23 347.7,474.6 351.13,475.86 354.55,473.15 357.98,471.06 361.41,465.74 364.83,461.8 368.26,456.28 371.68,444.62 375.11,441.7 378.54,435.01 381.96,437.37 385.39,440.01 388.81,448.72 392.24,448.72 395.67,450.61 399.09,456.28 402.52,461.4 405.94,468.1 409.37,475.19 412.8,479.13 416.22,483.47" fill="none" stroke="#0000ff" stroke-width="0.8" stroke-linejoin="round" marker-start="url(#mE)" marker-mid="url(#mE)" marker-end="url(#mE)"/>
<polyline points="255.2,499.62 258.63,506.24 262.05,507.82 265.48,514.99 268.9,520.43 272.33,522.95 275.76,523.85 279.18,524.25 282.61,524.37 286.03,521.29 289.46,517.75 292.89,510.26 296.31,501.2 299.74,485.44 303.16,471.65 306.59,459.43 310.02,457.27 313.44,458.21 316.87,462.19 320.29,465.11 323.72,468.89 327.15,471.29 330.57,473.58 334,474.45 337.42,473.18 340.85,472.59 344.28,473.11 347.7,472.91 351.13,472 354.55,470.07 357.98,468.18 361.41,465.7 364.83,462.59 368.26,458.25 371.68,449.98 375.11,440.52 378.54,432.88 381.96,435.01 385.39,438.71 388.81,442.49 392.24,445.8 395.67,447.5 399.09,455.49 402.52,460.22 405.94,467.31 409.37,474.6 412.8,478.94 416.22,483.07" fill="none" stroke="#ffa500" stroke-width="0.8" stroke-linejoin="round" marker-start="url(#mR)" marker-mid="url(#mR)" marker-end="url(#mR)"/>
<polyline points="255.2,500.02 258.63,506.71 262.05,508.68 265.48,516.17 268.9,522.28 272.33,524.64 275.76,525.63 279.18,526.02 282.61,526.22 286.03,523.46 289.46,519.52 292.89,512.82 296.31,503.17 299.74,490.28 303.16,478.35 306.59,466.09 310.02,462.98 313.44,465.5 316.87,469.48 320.29,472 323.72,476.97 327.15,479.61 330.57,481.5 334,482.33 337.42,481.5 340.85,480.24 344.28,480.63 347.7,480.83 351.13,479.45 354.55,477.48 357.98,475.71 361.41,474.01 364.83,469.88 368.26,462.98 371.68,453.13 375.11,442.49 378.54,435.87 381.96,439.38 385.39,443.08 388.81,446.79 392.24,449.31 395.67,451.2 399.09,457.39 402.52,462.19 405.94,468.89 409.37,476.38 412.8,480.71 416.22,484.69" fill="none" stroke="#009010" stroke-width="0.8" stroke-linejoin="round" marker-start="url(#mS)" marker-mid="url(#mS)" marker-end="url(#mS)"/>
<polyline points="255.2,499.39 258.63,506 262.05,507.5 265.48,514.71 268.9,520.19 272.33,522.79 275.76,523.7 279.18,524.09 282.61,524.09 286.03,520.78 289.46,517.19 292.89,509.39 296.31,500.02 299.74,483.51 303.16,469.17 306.59,456.08 310.02,452.93 313.44,454.9 316.87,458.88 320.29,461.4 323.72,465.7 327.15,468.69 330.57,470.07 334,470.7 337.42,469.48 340.85,467.79 344.28,469.48 347.7,469.68 351.13,468.81 354.55,466.33 357.98,465.11 361.41,463.18 364.83,460.1 368.26,455.73 371.68,447.22 375.11,437.49 378.54,429.61 381.96,432.88 385.39,436.58 388.81,440.6 392.24,443.71 395.67,444.58 399.09,453.68 402.52,458.65 405.94,466.01 409.37,473.5 412.8,477.79 416.22,482.21" fill="none" stroke="#960096" stroke-width="0.8" stroke-linejoin="round" marker-start="url(#mC)" marker-mid="url(#mC)" marker-end="url(#mC)"/>
<rect x="247.2" y="425" width="177.25" height="105.4" fill="none" stroke="#6c6c6c" stroke-width="1.05"/>
<path d="M255.2 530.4v1.9M282.61 530.4v1.9M310.02 530.4v1.9M337.42 530.4v1.9M364.83 530.4v1.9M392.24 530.4v1.9M419.65 530.4v1.9M247.2 514.2h-1.9M247.2 494.5h-1.9M247.2 474.8h-1.9M247.2 455.1h-1.9M247.2 435.4h-1.9" stroke="#000" stroke-width="0.6" fill="none"/>
<text class="tk" x="255.2" y="537.8" text-anchor="middle">0</text>
<text class="tk" x="282.61" y="537.8" text-anchor="middle">8</text>
<text class="tk" x="310.02" y="537.8" text-anchor="middle">16</text>
<text class="tk" x="337.42" y="537.8" text-anchor="middle">24</text>
<text class="tk" x="364.83" y="537.8" text-anchor="middle">32</text>
<text class="tk" x="392.24" y="537.8" text-anchor="middle">40</text>
<text class="tk" x="419.65" y="537.8" text-anchor="middle">48</text>
<text class="tk" x="242.5" y="516.45" text-anchor="end">5000</text>
<text class="tk" x="242.5" y="496.75" text-anchor="end">5500</text>
<text class="tk" x="242.5" y="477.05" text-anchor="end">6000</text>
<text class="tk" x="242.5" y="457.35" text-anchor="end">6500</text>
<text class="tk" x="242.5" y="437.65" text-anchor="end">7000</text>
<text class="ti" x="335.82" y="421.6" text-anchor="middle">QLD_Sunday</text>
<text class="lb" transform="translate(335.82 544.4) scale(1.08 1)" text-anchor="middle">Time(Half an hour)</text>
<text class="lb" transform="translate(226.6 477.7) scale(1.08 1) rotate(-90)" text-anchor="middle">Electric load(MW)</text>
</g>
<g>
<line x1="49.2" y1="434.5" x2="85.4" y2="434.5" stroke="#ff0000" stroke-width="1.15"/>
<circle cx="67.4" cy="434.5" r="2.62" fill="#ff0000"/>
<text class="lg" x="100.6" y="440.1">True</text>
<line x1="49.2" y1="458.2" x2="85.4" y2="458.2" stroke="#0000ff" stroke-width="1.15"/>
<polygon points="64.62,455.43 70.18,458.2 64.62,460.97" fill="#0000ff"/>
<text class="lg" x="100.6" y="463.8">ELM</text>
<line x1="49.2" y1="481.6" x2="85.4" y2="481.6" stroke="#ffa500" stroke-width="1.15"/>
<path d="M65 481.6H69.8M67.4 479.2V484" stroke="#ffa500" stroke-width="0.75" fill="none"/>
<text class="lg" x="100.6" y="487.2">RNN</text>
<line x1="49.2" y1="505.3" x2="85.4" y2="505.3" stroke="#009010" stroke-width="1.15"/>
<polygon points="67.4,502 68.24,504.15 70.54,504.28 68.76,505.74 69.34,507.97 67.4,506.73 65.46,507.97 66.04,505.74 64.26,504.28 66.56,504.15" fill="#009010"/>
<text class="lg" x="100.6" y="510.9">SVM</text>
<line x1="49.2" y1="528.9" x2="85.4" y2="528.9" stroke="#960096" stroke-width="1.15"/>
<rect x="64.85" y="526.35" width="5.1" height="5.1" fill="#960096"/>
<text class="lg" x="100.6" y="534.5">Combined</text>
</g>
</svg>
</body></html>
